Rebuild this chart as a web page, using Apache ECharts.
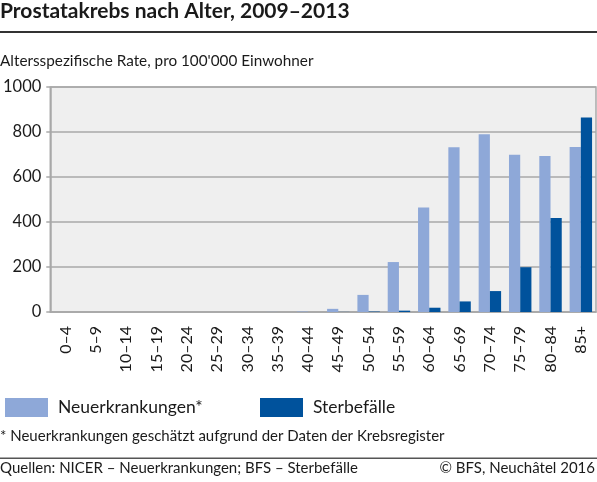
<!DOCTYPE html>
<html>
<head>
<meta charset="utf-8">
<script src="https://cdn.jsdelivr.net/npm/echarts@6/dist/echarts.min.js"></script>
<style>
  html, body { margin: 0; padding: 0; background: #fff; }
  #chart { width: 597px; height: 482px; }
</style>
</head>
<body>
<div id="chart"></div>
<script>
const ageGroups = ["0–4", "5–9", "10–14", "15–19", "20–24", "25–29", "30–34", "35–39", "40–44",
  "45–49", "50–54", "55–59", "60–64", "65–69", "70–74", "75–79", "80–84", "85+"];
const newCases = [0, 0, 0, 0, 0, 0, 0, 0.5, 2, 14, 76, 222, 465, 732, 790, 699, 693, 733];
const deaths = [0, 0, 0, 0, 0, 0, 0, 0, 0, 0.5, 2, 6, 19, 47, 93, 199, 418, 865];
const yTicks = [0, 200, 400, 600, 800, 1000];

const font = "Lato";
const txt = "#1a1a1a";
const chart = echarts.init(document.querySelector("#chart"));

chart.setOption({
  animation: false,
  textStyle: { fontFamily: font },
  grid: {
    left: 50, right: 1, top: 87, bottom: 170,
    show: true, backgroundColor: "#efefef", borderColor: "#a9a9a9", borderWidth: 1.5
  },
  legend: [
    {
      data: ["Neuerkrankungen*"], left: 0, top: 393,
      itemWidth: 43, itemHeight: 19, icon: "rect",
      textStyle: { fontFamily: font, fontSize: 17.5, color: txt, padding: [0, 0, 0, 5] }
    },
    {
      data: ["Sterbefälle"], left: 255, top: 393,
      itemWidth: 43, itemHeight: 19, icon: "rect",
      textStyle: { fontFamily: font, fontSize: 17.5, color: txt, padding: [0, 0, 0, 5] }
    }
  ],
  xAxis: {
    type: "category",
    data: ageGroups,
    axisLine: { show: true, lineStyle: { color: "#a9a9a9", width: 1.5 } },
    axisTick: { show: false },
    axisLabel: { rotate: 90, fontSize: 16, color: txt, margin: 14, fontFamily: font }
  },
  yAxis: {
    type: "value",
    min: 0, max: 1000, interval: 200,
    axisLine: { show: true, lineStyle: { color: "#a9a9a9", width: 1.5 } },
    axisTick: { show: true, length: 4, lineStyle: { color: "#a9a9a9", width: 1.5 } },
    axisLabel: {
      fontSize: 16.5, color: txt, margin: 9, fontFamily: font,
      formatter: v => yTicks.includes(v) ? String(v) : ""
    },
    splitLine: { lineStyle: { color: "#a9a9a9", width: 1.5 } }
  },
  series: [
    {
      name: "Neuerkrankungen*", type: "bar", data: newCases,
      itemStyle: { color: "#8ea8d8" },
      barGap: "0%", barCategoryGap: "26%"
    },
    {
      name: "Sterbefälle", type: "bar", data: deaths,
      itemStyle: { color: "#00529c" }
    }
  ],
  graphic: [
    { type: "text", left: 0, top: 1,
      style: { text: "Prostatakrebs nach Alter, 2009–2013", font: "bold 21px Lato", fill: txt } },
    { type: "rect", shape: { x: 0, y: 31, width: 597, height: 2 }, style: { fill: "#333" } },
    { type: "text", left: 0, top: 54,
      style: { text: "Altersspezifische Rate, pro 100'000 Einwohner", font: "15.3px Lato", fill: txt } },
    { type: "text", left: 0, top: 429,
      style: { text: "* Neuerkrankungen geschätzt aufgrund der Daten der Krebsregister", font: "15px Lato", fill: txt } },
    { type: "rect", shape: { x: 0, y: 457.5, width: 597, height: 1.5 }, style: { fill: "#555" } },
    { type: "text", left: 0, top: 461,
      style: { text: "Quellen: NICER – Neuerkrankungen; BFS – Sterbefälle", font: "15px Lato", fill: txt } },
    { type: "text", right: 2, top: 461,
      style: { text: "© BFS, Neuchâtel 2016", font: "15px Lato", fill: txt } }
  ]
});
</script>
</body>
</html>
